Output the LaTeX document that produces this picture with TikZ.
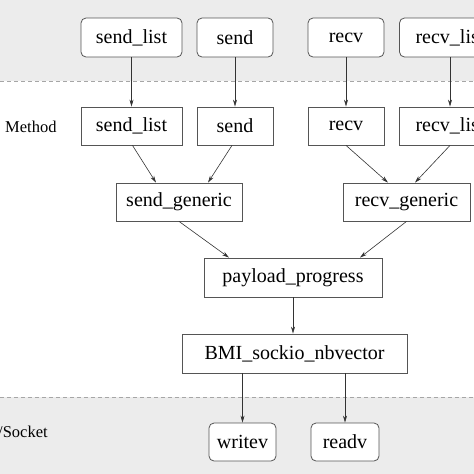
\documentclass[tikz,border=0pt]{standalone}
\usepackage{fontspec}
\setmainfont{Liberation Serif}
\usetikzlibrary{arrows.meta,calc}
\definecolor{bandgray}{HTML}{ECECEC}
\definecolor{boxline}{HTML}{555555}
\definecolor{arrline}{HTML}{333333}
\tikzset{
  box/.style={draw=boxline, line width=0.8pt, fill=white, inner sep=0pt,
    minimum height=39pt, font=\fontsize{20}{24}\selectfont},
  rbox/.style={box, rounded corners=5pt},
  lbl/.style={font=\fontsize{16.5}{20}\selectfont, inner sep=0pt},
  conn/.style={draw=arrline, line width=0.6pt, -{Stealth[length=7pt,width=4pt]}},
  sep/.style={draw=gray!70, line width=0.7pt, dash pattern=on 4pt off 3pt}
}
\begin{document}
\begin{tikzpicture}[x=1pt,y=-1pt]
\useasboundingbox (0,0) rectangle (474,474);
% bands
\fill[bandgray] (0,0) rectangle (474,81);
\fill[bandgray] (0,397) rectangle (474,474);
\draw[sep] (0,81) -- (474,81);
\draw[sep] (0,397) -- (474,397);
% labels
\node[lbl, anchor=west] (lmethod) at (5,127) {Method};
\node[lbl, anchor=base west] (lsocket) at (-2,437) {/Socket};
% top row
\node[rbox, minimum width=101pt] (tsl) at (131.5,37.5) {send\_list};
\node[rbox, minimum width=76pt] (ts) at (235,37.5) {send};
\node[rbox, minimum width=76pt] (tr) at (346,37.5) {recv};
\node[rbox, minimum width=101pt] (trl) at (450,37.5) {recv\_list};
% method row
\node[box, minimum width=101pt, minimum height=38pt] (msl) at (131.5,126) {send\_list};
\node[box, minimum width=76pt, minimum height=38pt] (ms) at (235,126) {send};
\node[box, minimum width=76pt, minimum height=38pt] (mr) at (346,126) {recv};
\node[box, minimum width=101pt, minimum height=38pt] (mrl) at (450,126) {recv\_list};
% generic
\node[box, minimum width=126pt, minimum height=38pt] (sg) at (179,202) {send\_generic};
\node[box, minimum width=127pt, minimum height=38pt] (rg) at (406.5,202) {recv\_generic};
% payload
\node[box, minimum width=178pt] (pp) at (293,277.5) {payload\_progress};
% BMI
\node[box, minimum width=225pt] (bmi) at (294.5,353.5) {BMI\_sockio\_nbvector};
% socket
\node[rbox, minimum width=67pt, minimum height=38pt] (wv) at (242.5,442) {writev};
\node[rbox, minimum width=68pt, minimum height=38pt] (rv) at (345,442) {readv};
% connectors
\draw[conn] (tsl.south) -- (msl.north);
\draw[conn] (ts.south) -- (ms.north);
\draw[conn] (tr.south) -- (mr.north);
\draw[conn] (trl.south) -- (mrl.north);
\draw[conn] ([xshift=1pt]msl.south) -- ([xshift=-23pt]sg.north);
\draw[conn] ([xshift=-3pt]ms.south) -- ([xshift=29pt]sg.north);
\draw[conn] (mr.south) -- ([xshift=-18.5pt]rg.north);
\draw[conn] (mrl.south) -- ([xshift=8.5pt]rg.north);
\draw[conn] (sg.south) -- ([xshift=-64pt]pp.north);
\draw[conn] (rg.south) -- ([xshift=67pt]pp.north);
\draw[conn] (pp.south) -- (pp.south |- bmi.north);
\draw[conn] (wv.north |- bmi.south) -- (wv.north);
\draw[conn] (rv.north |- bmi.south) -- (rv.north);
\end{tikzpicture}
\end{document}
